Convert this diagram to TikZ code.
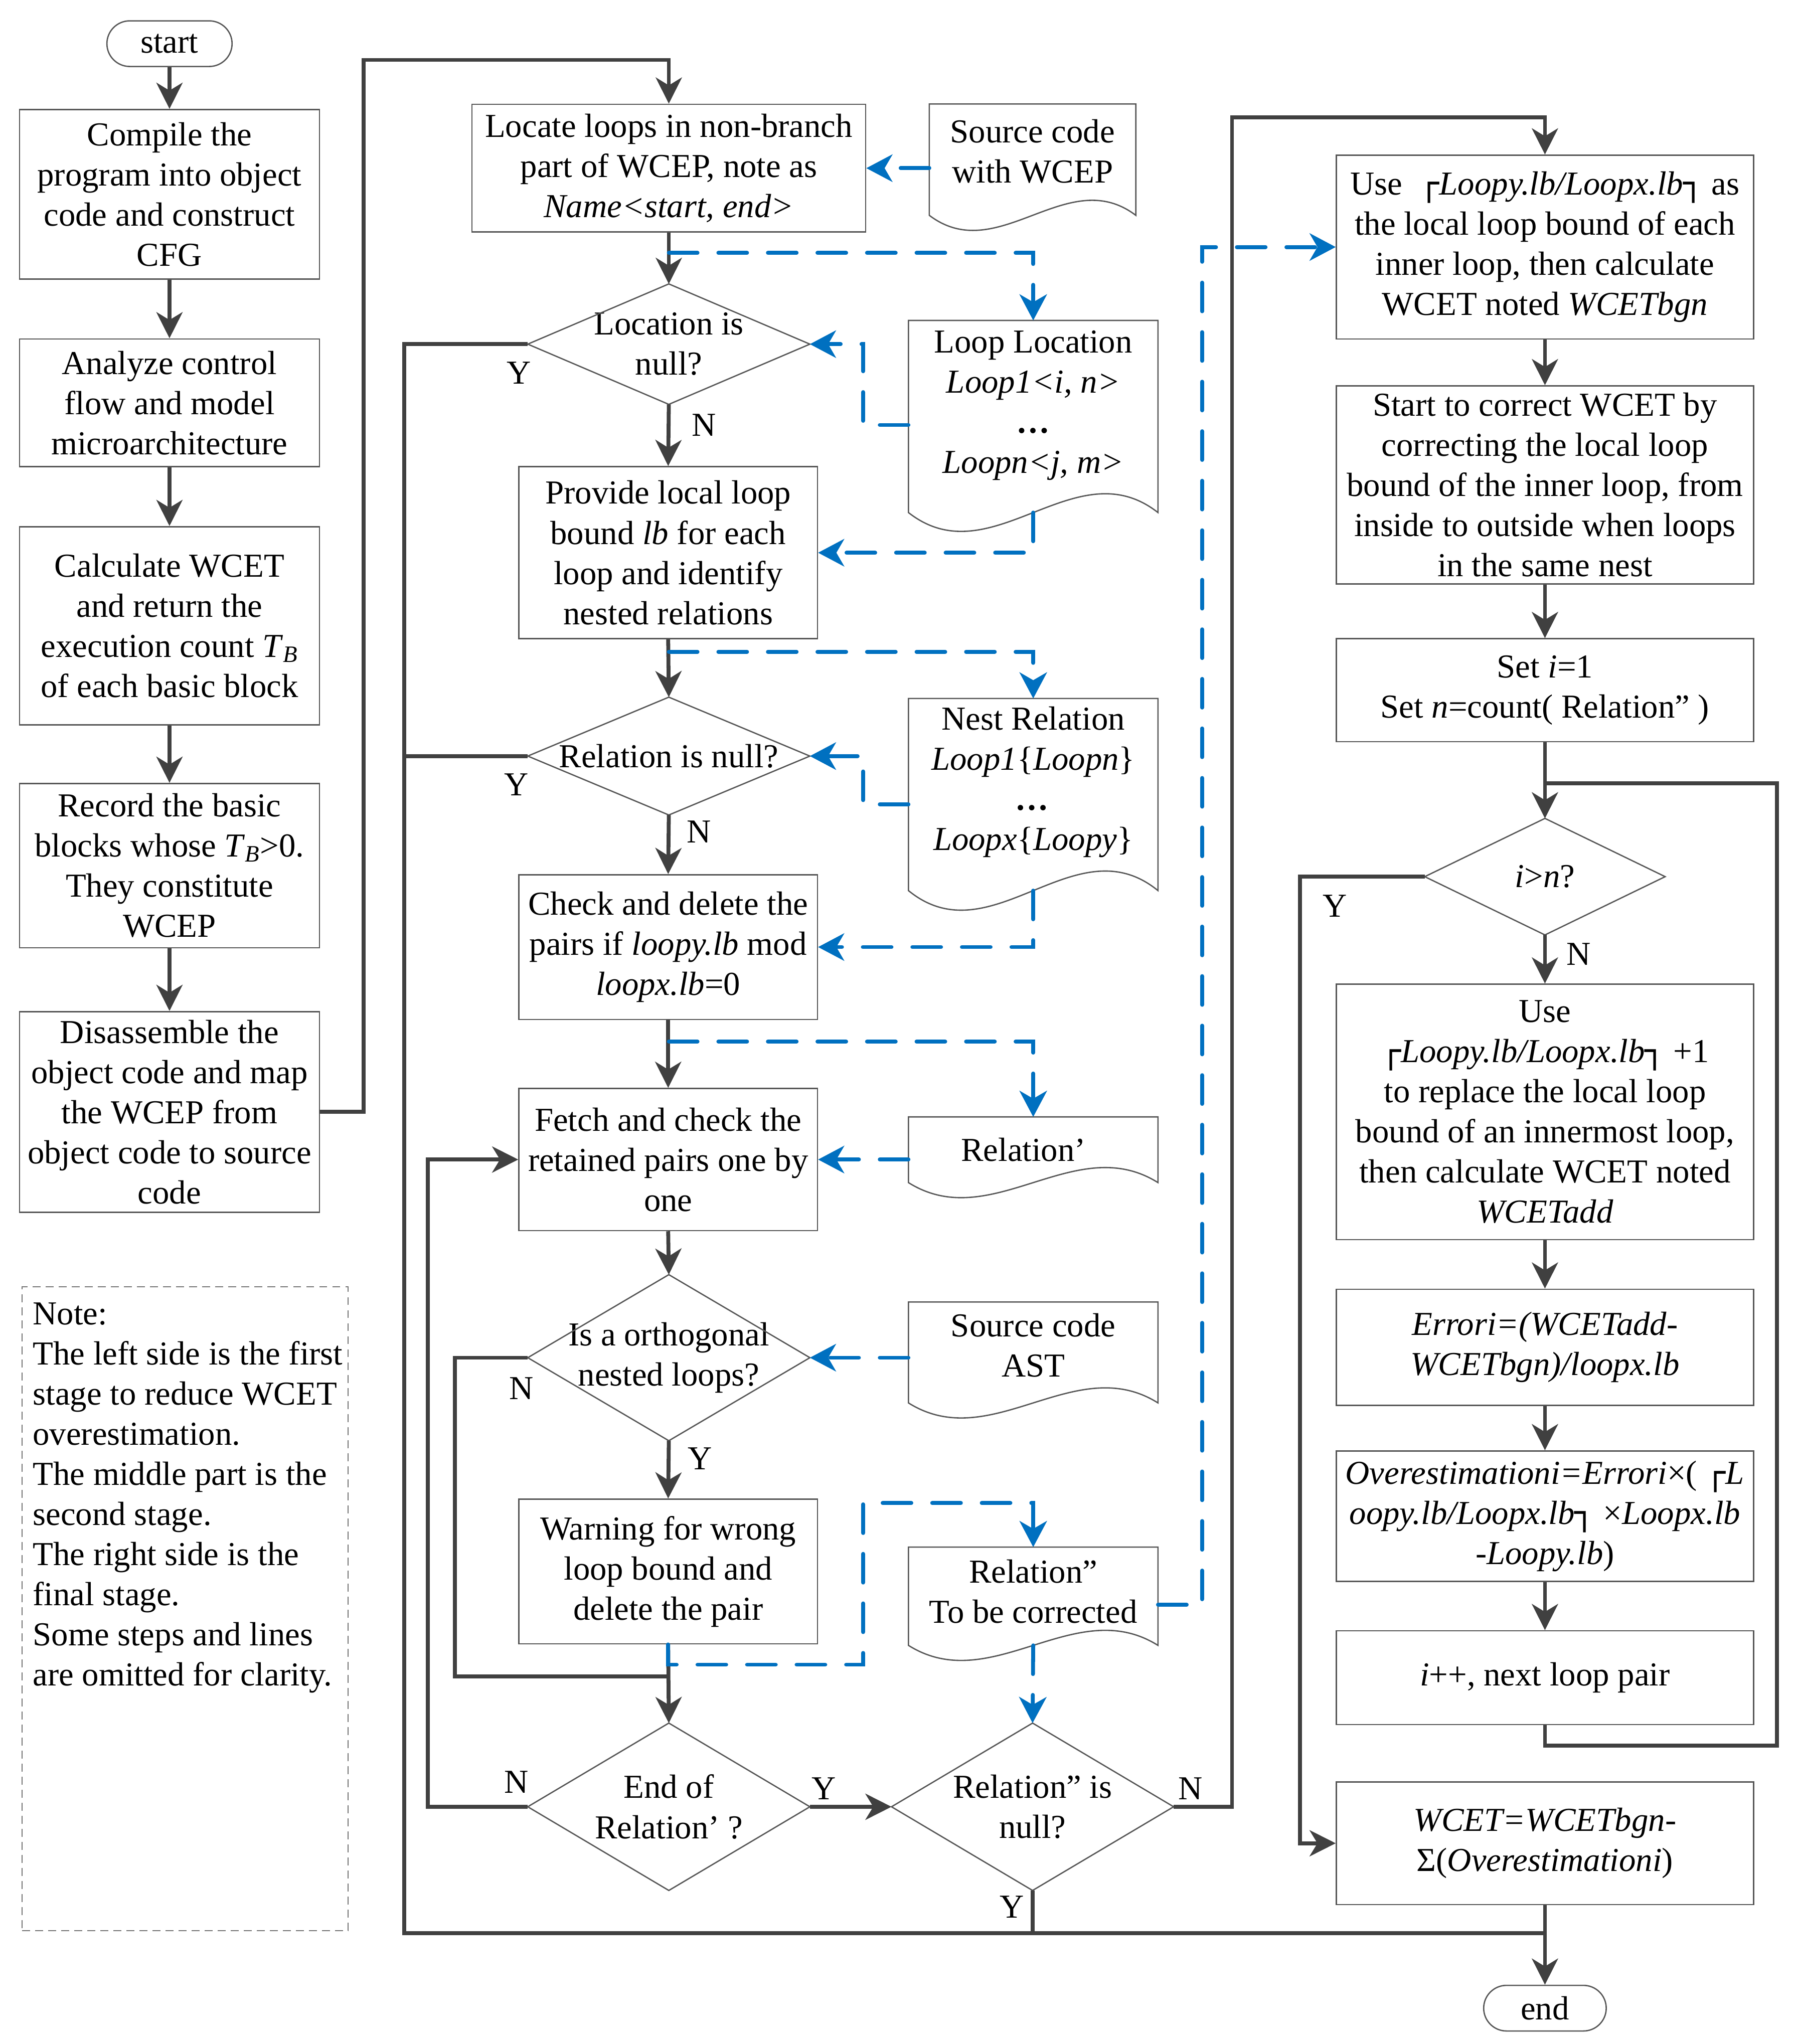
\documentclass[tikz,border=0pt]{standalone}
\usepackage{fontspec}
\setmainfont{Liberation Serif}
\newfontfamily\dvfont{DejaVu Sans}
\usetikzlibrary{arrows.meta,calc}
\definecolor{dk}{HTML}{404040}
\definecolor{bl}{HTML}{0070C0}
\definecolor{bd}{HTML}{555555}
\newcommand\lcl{{\dvfont ┌}}
\newcommand\rcl{{\dvfont ┐}}
\newcommand\docoutline[2]{\draw[proc] (#1.south west) -- (#1.north west) -- (#1.north east) -- (#1.south east) .. controls ($(#1.south east)!0.333!(#1.south west)+(0,-#2)$) and ($(#1.south east)!0.667!(#1.south west)+(0,#2)$) .. (#1.south west) -- cycle;}
\newcommand\diaoutline[1]{\draw[proc] (#1.north) -- (#1.east) -- (#1.south) -- (#1.west) -- cycle;}
\begin{document}
\begin{tikzpicture}[x=1pt,y=-1pt,
  every node/.style={font=\fontsize{25.7}{30.8}\selectfont, inner sep=0pt, align=center},
  proc/.style={draw=bd, line width=1pt},
  hid/.style={rectangle},
  flow/.style={draw=dk, line width=3pt, -{Stealth[length=20pt,width=20pt,inset=6pt]}},
  link/.style={draw=dk, line width=3pt},
  data/.style={draw=bl, line width=3pt, dash pattern=on 22pt off 16pt, line cap=round, -{Stealth[length=20pt,width=21pt,inset=6pt,line cap=butt]}},
  datal/.style={draw=bl, line width=3pt, dash pattern=on 22pt off 16pt, line cap=round},
  lbl/.style={}
]
\useasboundingbox (0,0) rectangle (1376,1568);

% ---------- left column ----------
\node[proc, minimum width=96pt, minimum height=35pt, rounded corners=17.5pt] (start) at (130,33.5) {start};
\node[proc, minimum width=230pt, minimum height=130pt] (c1) at (130,149) {Compile the\\program into object\\code and construct\\CFG};
\node[proc, minimum width=230pt, minimum height=98pt] (c2) at (130,309) {Analyze control\\flow and model\\microarchitecture};
\node[proc, minimum width=230pt, minimum height=152pt] (c3) at (130,480) {Calculate WCET\\and return the\\execution count \textit{T}\textsubscript{\textit{B}}\\of each basic block};
\node[proc, minimum width=230pt, minimum height=126pt] (c4) at (130,664) {Record the basic\\blocks whose \textit{T}\textsubscript{\textit{B}}>0.\\They constitute\\WCEP};
\node[proc, minimum width=230pt, minimum height=154pt] (c5) at (130,853) {Disassemble the\\object code and map\\the WCEP from\\object code to source\\code};

\node[draw=black!55, line width=0.8pt, dash pattern=on 6pt off 4pt, minimum width=250pt, minimum height=494pt] (notefr) at (142,1234) {};
\node[anchor=north west, align=left] (note) at (25,999) {Note:\\The left side is the first\\stage to reduce WCET\\overestimation.\\The middle part is the\\second stage.\\The right side is the\\final stage.\\Some steps and lines\\are omitted for clarity.};

% ---------- middle column ----------
\node[proc, minimum width=302pt, minimum height=98pt] (locate) at (513,129) {Locate loops in non-branch\\part of WCEP, note as\\\textit{Name<start, end>}};

\node[hid, minimum width=158pt, minimum height=85pt] (srcw) at (792,122.5) {};
\docoutline{srcw}{40}
\node (srcwT) at (792,116) {Source code\\with WCEP};

\node[hid, minimum width=216pt, minimum height=92pt] (d1) at (513,264) {Location is\\null?};
\diaoutline{d1}

\node[hid, minimum width=191pt, minimum height=147pt] (loc) at (792.5,319.5) {};
\docoutline{loc}{50}
\node (locT) at (792.5,311) {Loop Location\\\textit{Loop1<i, n>}\\\textbf{…}\\\textit{Loopn<j, m>}};

\node[proc, minimum width=229pt, minimum height=132pt] (prov) at (512.5,424) {Provide local loop\\bound \textit{lb} for each\\loop and identify\\nested relations};

\node[hid, minimum width=216pt, minimum height=90pt] (d2) at (513,580) {Relation is null?};
\diaoutline{d2}

\node[hid, minimum width=191pt, minimum height=147pt] (nest) at (792.5,609.5) {};
\docoutline{nest}{52}
\node (nestT) at (792.5,600) {Nest Relation\\\textit{Loop1}\{\textit{Loopn}\}\\\textbf{\textit{…}}\\\textit{Loopx}\{\textit{Loopy}\}};

\node[proc, minimum width=229pt, minimum height=111pt] (check) at (512.5,726.5) {Check and delete the\\pairs if \textit{loopy.lb} mod\\\textit{loopx.lb}=0};

\node[proc, minimum width=229pt, minimum height=109pt] (fetch) at (512.5,889.5) {Fetch and check the\\retained pairs one by\\one};

\node[hid, minimum width=191pt, minimum height=50pt] (relp) at (792.5,882) {};
\docoutline{relp}{40}
\node (relpT) at (785,882) {Relation’};

\node[hid, minimum width=216pt, minimum height=127pt] (d3) at (513,1041.5) {Is a orthogonal\\nested loops?};
\diaoutline{d3}

\node[hid, minimum width=191pt, minimum height=77pt] (ast) at (792.5,1037.5) {};
\docoutline{ast}{40}
\node (astT) at (792.5,1032) {Source code\\AST};

\node[proc, minimum width=229pt, minimum height=111pt] (warn) at (512.5,1205.5) {Warning for wrong\\loop bound and\\delete the pair};

\node[hid, minimum width=191pt, minimum height=75pt] (relpp) at (792.5,1224.5) {};
\docoutline{relpp}{40}
\node (relppT) at (792.5,1221) {Relation”\\To be corrected};

\node[hid, minimum width=216pt, minimum height=128pt] (d4) at (513,1386) {End of\\Relation’ ?};
\diaoutline{d4}

\node[hid, minimum width=216pt, minimum height=128pt] (d5) at (792,1386) {Relation” is\\null?};
\diaoutline{d5}

% ---------- right column ----------
\node[proc, minimum width=320pt, minimum height=141pt] (use1) at (1185,189.5) {Use \ \lcl\textit{Loopy.lb/Loopx.lb}\rcl\ as\\the local loop bound of each\\inner loop, then calculate\\WCET noted \textit{WCETbgn}};
\node[proc, minimum width=320pt, minimum height=152pt] (strt) at (1185,372) {Start to correct WCET by\\correcting the local loop\\bound of the inner loop, from\\inside to outside when loops\\in the same nest};
\node[proc, minimum width=320pt, minimum height=79pt] (seti) at (1185,529.5) {Set \textit{i}=1\\Set \textit{n}=count( Relation” )};
\node[hid, minimum width=184pt, minimum height=89pt] (d6) at (1185,672.5) {\textit{i}>\textit{n}?};
\diaoutline{d6}
\node[proc, minimum width=320pt, minimum height=196pt] (use2) at (1185,853) {Use\\\lcl\textit{Loopy.lb/Loopx.lb}\rcl\ +1\\to replace the local loop\\bound of an innermost loop,\\then calculate WCET noted\\\textit{WCETadd}};
\node[proc, minimum width=320pt, minimum height=89pt] (err) at (1185,1033.5) {\textit{Errori=(WCETadd-}\\\textit{WCETbgn)/loopx.lb}};
\node[proc, minimum width=320pt, minimum height=100pt] (over) at (1185,1163) {\textit{Overestimationi=Errori}×( \lcl\textit{L}\\\textit{oopy.lb/Loopx.lb}\rcl\ ×\textit{Loopx.lb}\\-\textit{Loopy.lb})};
\node[proc, minimum width=320pt, minimum height=72pt] (ipp) at (1185,1287) {\textit{i}++, next loop pair};
\node[proc, minimum width=320pt, minimum height=94pt] (wcet) at (1185,1414) {\textit{WCET=WCETbgn-}\\Σ(\textit{Overestimationi})};
\node[proc, minimum width=94pt, minimum height=35pt, rounded corners=17.5pt] (end) at (1185,1540.5) {end};

% ---------- coordinates ----------
\coordinate (k1) at (279,46);
\coordinate (yb) at (310,1483);
\coordinate (n3) at (349,1286);
\coordinate (n4) at (328,889.5);
\coordinate (n5) at (945,90);
\coordinate (lp) at (1363,1339);
\coordinate (lq) at (1363,601);
\coordinate (y6) at (997,1414);
\coordinate (b2) at (513,194);
\coordinate (b3) at (662,326);
\coordinate (b5) at (513,500);
\coordinate (b6) at (662,617);
\coordinate (b8) at (513,799);
\coordinate (b11a) at (662,1277);
\coordinate (b11b) at (662,1153);
\coordinate (b12a) at (922,1231);
\coordinate (b12b) at (922,189.5);

% ---------- dark connectors ----------
\draw[flow] (start) -- (c1);
\draw[flow] (c1) -- (c2);
\draw[flow] (c2) -- (c3);
\draw[flow] (c3) -- (c4);
\draw[flow] (c4) -- (c5);
\draw[flow] (c5.east) -| (k1) -| (locate.north);
\draw[flow] (locate.south) -- (d1.north);
\draw[flow] (d1.south) -- (prov.north);
\draw[link] (d1.west) -| (yb) -- (yb -| end.north);
\draw[link] (d2.west) -- (d2.west -| yb);
\draw[flow] (prov.south) -- (d2.north);
\draw[flow] (d2.south) -- (check.north);
\draw[flow] (check.south) -- (fetch.north);
\draw[flow] (fetch.south) -- (d3.north);
\draw[flow] (d3.south) -- (warn.north);
\draw[link] (d3.west) -| (n3) -- (n3 -| d4.north);
\draw[flow] (warn.south) -- (d4.north);
\draw[flow] (d4.west) -| (n4) -- (fetch.west);
\draw[flow] (d4.east) -- (d5.west);
\draw[flow] (d5.east) -| (n5) -| (use1.north);
\draw[link] (d5.south) -- (d5.south |- yb);
\draw[flow] (use1) -- (strt);
\draw[flow] (strt) -- (seti);
\draw[flow] (seti.south) -- (d6.north);
\draw[link] (ipp.south) |- (lp) -- (lq) -- (lq -| seti.south);
\draw[flow] (d6.west) -| (y6) -- (wcet.west);
\draw[flow] (d6.south) -- (use2.north);
\draw[flow] (use2) -- (err);
\draw[flow] (err) -- (over);
\draw[flow] (over) -- (ipp);
\draw[flow] (wcet.south) -- (end.north);

% ---------- blue data flows ----------
\draw[data] (srcw.west |- locate.east) -- (locate.east);
\draw[data] (b2) -| (loc.north);
\draw[data] (loc.west |- b3) -- (b3) |- (d1.east);
\draw[data] (loc.south) |- (prov.east);
\draw[data] (b5) -| (nest.north);
\draw[data] (nest.west |- b6) -- (b6) |- (d2.east);
\draw[data] (nest.south) |- (check.east);
\draw[data] (b8) -| (relp.north);
\draw[data] (relp.west |- fetch.east) -- (fetch.east);
\draw[data] (ast.west |- d3.east) -- (d3.east);
\draw[data] (warn.south) |- (b11a) -- (b11b) -| (relpp.north);
\draw[data] (relpp.east |- b12a) -- (b12a) -- (b12b) -- (use1.west);
\draw[data] (relpp.south) -- (d5.north);

% ---------- labels ----------
\node[lbl] (lN1) at (540,326) {N};
\node[lbl] (lY1) at (398,286) {Y};
\node[lbl] (lY2) at (396,602) {Y};
\node[lbl] (lN2) at (536,638) {N};
\node[lbl] (lN3) at (400,1065) {N};
\node[lbl] (lY3) at (537,1119) {Y};
\node[lbl] (lN4) at (396,1367) {N};
\node[lbl] (lY4) at (632,1372) {Y};
\node[lbl] (lN5) at (913,1372) {N};
\node[lbl] (lY5) at (776,1463) {Y};
\node[lbl] (lY6) at (1024,695) {Y};
\node[lbl] (lN6) at (1211,732) {N};
\end{tikzpicture}
\end{document}
